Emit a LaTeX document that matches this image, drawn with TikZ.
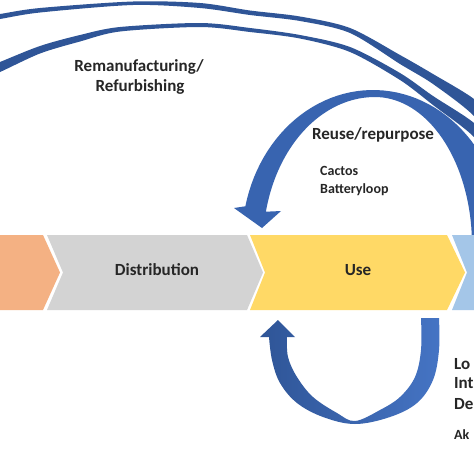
\documentclass[tikz,border=0pt]{standalone}
\usepackage{fontspec}
\setmainfont{Carlito}
\definecolor{txt}{HTML}{262626}
\definecolor{corange}{HTML}{F4B183}
\definecolor{cgray}{HTML}{D3D3D3}
\definecolor{cyellow}{HTML}{FFD966}
\definecolor{cblue}{HTML}{A4C6E8}
\definecolor{arcdark}{HTML}{2F5597}
\definecolor{arcmid}{HTML}{3864B0}
\definecolor{arclight}{HTML}{4574C4}
\begin{document}
\begin{tikzpicture}[x=1pt,y=-1pt,
  lbl/.style={font=\bfseries\fontsize{17}{20}\selectfont, text=txt, inner sep=0pt, anchor=mid},
  lblw/.style={lbl, anchor=mid west},
  smallw/.style={font=\bfseries\fontsize{14}{17}\selectfont, text=txt, inner sep=0pt, anchor=mid west},
  chevron/.style={draw=none},
  band/.style={fill=arcdark},
]
\useasboundingbox (0,0) rectangle (474,474);
\fill[white] (0,0) rectangle (474,474);
\clip (0,0) rectangle (474,474);

% Remanufacturing / refurbishing bands (outer A and inner B)
\fill[band] plot[smooth, tension=0.5] coordinates {(-10,15) (0,14) (40,8) (133,1.5) (200,3) (250,10.5) (300,16.5) (350,28) (400,55) (433,74) (474,99) (500,125) (520,165)}
  -- plot[smooth, tension=0.5] coordinates {(522,200) (497,150) (474,116) (433,84) (400,64) (350,33) (300,21) (250,15) (200,8) (133,5) (40,12.5) (0,19) (-10,20)} -- cycle;
\fill[band] plot[smooth, tension=0.5] coordinates {(-10,66) (0,62) (40,46) (80,35) (120,27) (200,23) (250,28) (300,35) (350,47) (400,73) (433,96) (474,123) (500,152) (520,190)}
  -- plot[smooth, tension=0.5] coordinates {(522,220) (498,172) (474,137) (433,105) (400,80) (350,52) (300,38.5) (250,32) (200,27) (120,31.5) (80,41.5) (40,53.5) (0,72) (-10,75)} -- cycle;

% Reuse / repurpose arrow
\fill[arcmid] (262,228) -- (234,208)
  -- plot[domain=167:-5, samples=60] ({373+131*cos(\x)},{240-150*sin(\x)})
  -- plot[domain=-5:90, samples=40] ({375+97*cos(\x)},{245-148*sin(\x)})
  -- plot[domain=90:167, samples=40] ({375+112*cos(\x)},{245-148*sin(\x)})
  -- (281,211) -- cycle;

% Lower U-shaped arrow
\shade[left color=arcdark, right color=arclight]
  (278,320) -- (260,337)
  -- plot[smooth, tension=0.6] coordinates {(269,337) (272,360) (280,383) (297,403) (323,417) (355,424) (390,417) (417,403) (433,380) (439,350) (439,318)}
  -- plot[smooth, tension=0.6] coordinates {(421,318) (421,350) (415,377) (400,397) (380,410) (355,421) (337,413) (313,397) (297,377) (288,357) (287,337)}
  -- (295,337) -- cycle;

% Chevrons
\fill[corange, chevron] (-20,235) -- (43,235) -- (60,272.5) -- (43,310) -- (-20,310) -- cycle;
\fill[cgray, chevron] (47,235) -- (247,235) -- (263,272.5) -- (247,310) -- (47,310) -- (63,272.5) -- cycle;
\fill[cyellow, chevron] (250,235) -- (447,235) -- (465,272.5) -- (447,310) -- (250,310) -- (265,272.5) -- cycle;
\fill[cblue, chevron] (452,235) -- (520,235) -- (520,310) -- (452,310) -- (467,272.5) -- cycle;

% Labels
\node[lbl] (reman) at (139,69) {Remanufacturing/};
\node[lbl] (refurb) at (140,89) {Refurbishing};
\node[lbl] (reuse) at (373,137) {Reuse/repurpose};
\node[smallw] (cactos) at (320,173) {Cactos};
\node[smallw] (battery) at (320,191) {Batteryloop};
\node[lbl] (dist) at (157,273) {Distribution};
\node[lbl] (use) at (358,273) {Use};
\node[lblw] (lon) at (454,367) {Lo};
\node[lblw] (int) at (454,386) {Int};
\node[lblw] (de) at (454,407) {De};
\node[smallw] (akk) at (454,437) {Ak};
\end{tikzpicture}
\end{document}
